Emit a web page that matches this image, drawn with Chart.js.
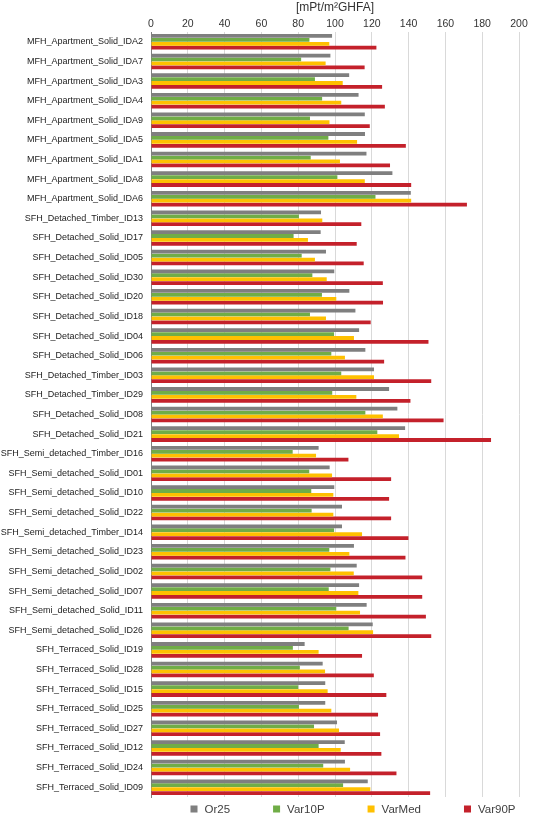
<!DOCTYPE html>
<html><head><meta charset="utf-8">
<script src="https://cdn.jsdelivr.net/npm/chart.js@4/dist/chart.umd.min.js"></script>
<style>body{margin:0;background:#fff}#wrap{width:539px;height:817px;position:relative}</style>
</head><body><div id="wrap"><canvas id="c"></canvas></div>
<script>
const categories = [
"MFH_Apartment_Solid_IDA2","MFH_Apartment_Solid_IDA7","MFH_Apartment_Solid_IDA3","MFH_Apartment_Solid_IDA4",
"MFH_Apartment_Solid_IDA9","MFH_Apartment_Solid_IDA5","MFH_Apartment_Solid_IDA1","MFH_Apartment_Solid_IDA8",
"MFH_Apartment_Solid_IDA6","SFH_Detached_Timber_ID13","SFH_Detached_Solid_ID17","SFH_Detached_Solid_ID05",
"SFH_Detached_Solid_ID30","SFH_Detached_Solid_ID20","SFH_Detached_Solid_ID18","SFH_Detached_Solid_ID04",
"SFH_Detached_Solid_ID06","SFH_Detached_Timber_ID03","SFH_Detached_Timber_ID29","SFH_Detached_Solid_ID08",
"SFH_Detached_Solid_ID21","SFH_Semi_detached_Timber_ID16","SFH_Semi_detached_Solid_ID01","SFH_Semi_detached_Solid_ID10",
"SFH_Semi_detached_Solid_ID22","SFH_Semi_detached_Timber_ID14","SFH_Semi_detached_Solid_ID23","SFH_Semi_detached_Solid_ID02",
"SFH_Semi_detached_Solid_ID07","SFH_Semi_detached_Solid_ID11","SFH_Semi_detached_Solid_ID26","SFH_Terraced_Solid_ID19",
"SFH_Terraced_Solid_ID28","SFH_Terraced_Solid_ID15","SFH_Terraced_Solid_ID25","SFH_Terraced_Solid_ID27",
"SFH_Terraced_Solid_ID12","SFH_Terraced_Solid_ID24","SFH_Terraced_Solid_ID09"];
const or25 = [98.4,97.5,107.7,112.8,116.2,116.3,117.1,131.2,141.2,92.4,92.2,95.1,99.6,107.8,111.1,113.1,116.5,121.2,129.4,133.9,138.1,91.1,97.1,99.6,103.8,103.8,110.3,111.8,113.1,117.2,120.5,83.5,93.3,94.7,94.7,101.1,105.3,105.4,117.8];
const var10P = [86.1,81.6,89.1,93.0,86.4,96.4,86.8,101.3,122.0,80.4,77.5,81.9,87.7,92.9,86.4,99.5,98.0,103.4,98.5,116.5,123.0,77.0,86.0,87.1,87.3,99.5,96.9,97.5,96.6,100.7,107.4,77.1,80.9,80.0,80.4,88.6,91.1,93.6,104.4];
const varMed = [96.9,94.9,104.2,103.4,97.0,112.0,102.7,116.2,141.4,93.1,85.3,89.1,95.5,100.7,95.1,110.3,105.4,121.2,111.6,126.0,134.8,89.7,98.4,99.1,99.1,114.7,107.8,110.2,112.7,113.6,120.7,91.1,94.6,96.0,98.0,102.2,103.1,108.2,119.2];
const var90P = [122.5,116.1,125.6,127.1,118.9,138.5,129.9,141.4,171.7,114.3,111.8,115.6,126.0,126.1,119.4,150.8,126.7,152.3,141.0,159.0,184.8,107.3,130.5,129.4,130.5,139.9,138.3,147.4,147.4,149.4,152.3,114.7,121.1,127.9,123.4,124.5,125.2,133.4,151.7];
const seriesNames = ["Or25","Var10P","VarMed","Var90P"];
const xTicks = [0,20,40,60,80,100,120,140,160,180,200];
const axisTitle = "[mPt/m\u00B2GHFA]";

const colors = ["#7f7f7f","#70ad47","#ffc000","#c4212b"];
const vals = [or25,var10P,varMed,var90P];
const ff = "'Liberation Sans', Arial, sans-serif";

const customLegend = {
  id: 'customLegend',
  afterDraw(chart) {
    const ctx = chart.ctx;
    const y = 809;
    let x = 190.5;
    ctx.save();
    ctx.font = "11.5px " + ff;
    ctx.textBaseline = 'middle';
    ctx.textAlign = 'left';
    chart.data.datasets.forEach(ds => {
      ctx.fillStyle = ds.backgroundColor;
      ctx.fillRect(x, y - 3.5, 7, 7);
      ctx.fillStyle = '#404040';
      ctx.fillText(ds.label, x + 14, y + 0.5);
      x += 14 + ctx.measureText(ds.label).width + 43;
    });
    ctx.restore();
  }
};

new Chart(document.getElementById('c'), {
  type: 'bar',
  data: {
    labels: categories,
    datasets: seriesNames.map((n,i)=>({label:n,data:vals[i],backgroundColor:colors[i],borderWidth:0,barPercentage:0.96,categoryPercentage:0.8}))
  },
  options: {
    indexAxis: 'y',
    responsive: true, maintainAspectRatio: false, animation: false,
    layout: {padding: {left: 0, right: 20, top: 0, bottom: 20}},
    plugins: {
      legend: {display: false},
      tooltip: {enabled: false}
    },
    scales: {
      x: {
        position: 'top', min: 0, max: 200,
        afterBuildTicks: s => { s.ticks = xTicks.map(v=>({value:v})); },
        ticks: {color: '#333', font: {family: ff, size: 10.5}, padding: 2},
        grid: {color: '#d9d9d9', drawTicks: false, lineWidth: 1},
        border: {display: false},
        title: {display: true, text: axisTitle, color: '#333', font: {family: ff, size: 12}, padding: {top: 0, bottom: 1}}
      },
      y: {
        afterFit: s => { s.width = 151; },
        ticks: {color: '#222', font: {family: ff, size: 9}, autoSkip: false, padding: 8},
        grid: {display: false, drawTicks: false},
        border: {display: true, color: '#808080', width: 1}
      }
    }
  },
  plugins: [customLegend]
});
</script></body></html>
